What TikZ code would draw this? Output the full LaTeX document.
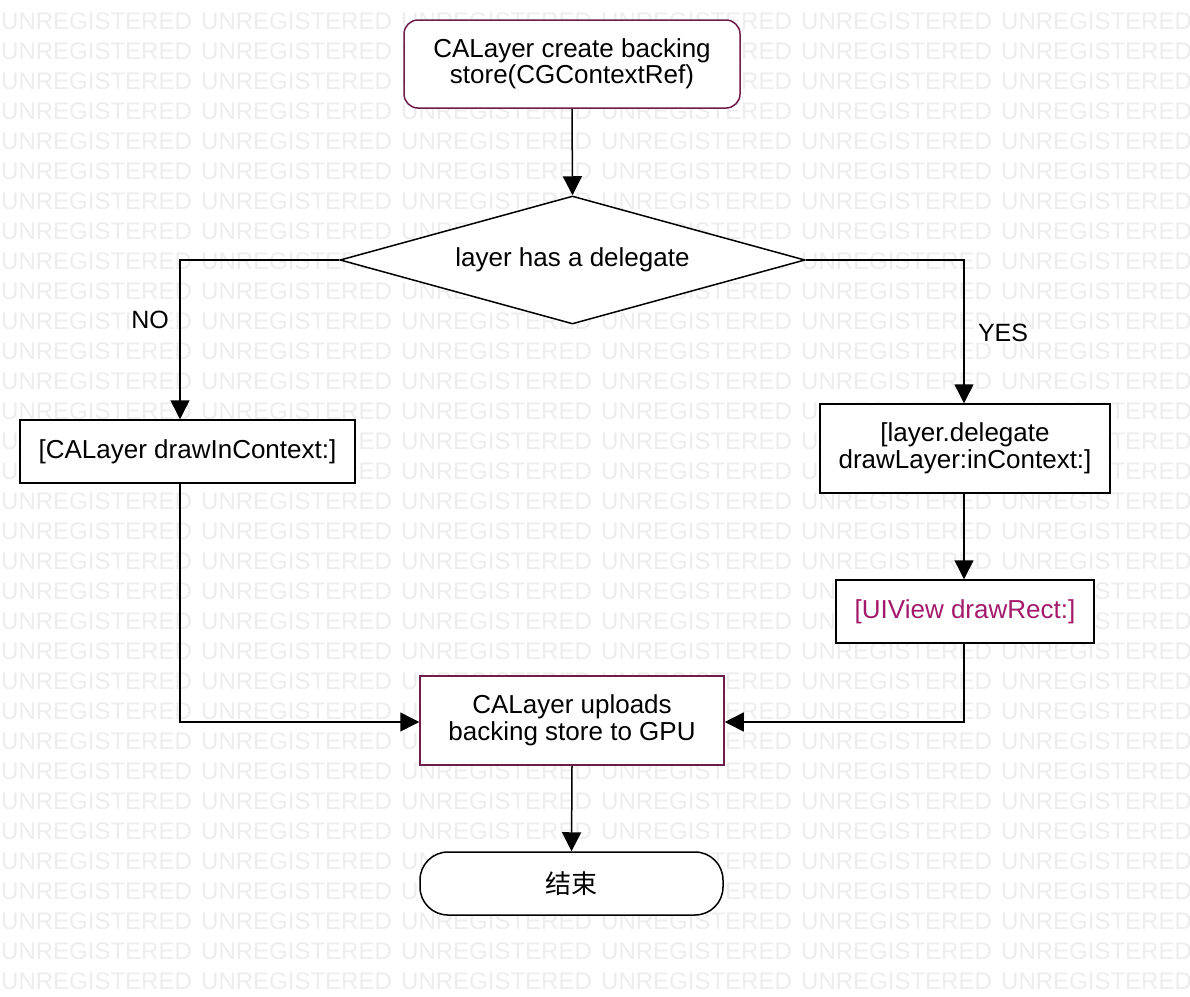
\documentclass[tikz,border=0pt]{standalone}
\usepackage{fontspec}
\setmainfont{Liberation Sans}
\newfontfamily\cjk{Noto Sans CJK SC}
\usetikzlibrary{shapes.geometric,arrows.meta}
\definecolor{bordpurple}{HTML}{6E1D4A}
\definecolor{textpurple}{HTML}{A3196B}
\definecolor{wmgray}{HTML}{EDEDED}
\tikzset{
  wm/.style={text=wmgray,font=\fontsize{24}{26}\selectfont,inner sep=0pt,anchor=west},
  base/.style={draw=black,fill=white,line width=1.5pt,align=center,inner sep=0pt,
    font=\fontsize{26}{26.5}\selectfont},
  startbox/.style={base,draw=bordpurple,rounded corners=14pt},
  procbox/.style={base},
  decbox/.style={base,shape=diamond,aspect=3.63},
  endbox/.style={base,rounded corners=28pt},
  conn/.style={line width=1.5pt,-{Triangle[length=19pt,width=19pt]}},
  lbl/.style={fill=white,inner sep=1pt,font=\fontsize{25}{26}\selectfont}
}
\begin{document}
\begin{tikzpicture}[x=1pt,y=-1pt]
\useasboundingbox (0,0) rectangle (1190,996);
\fill[white] (0,0) rectangle (1190,996);
% watermark
\foreach \r in {0,...,32}{
  \foreach \c in {0,...,5}{
    \node[wm] (wm-\r-\c) at ({\c*200+1},{21+\r*30}) {UNREGISTERED};
  }
}
% nodes
\node[startbox,minimum width=336pt,minimum height=88pt] (st) at (572,64)
  {CALayer create backing\\store(CGContextRef)};
\node[decbox,minimum width=465pt,minimum height=128pt] (dia) at (572.5,260)
  {layer has a delegate};
\node[procbox,minimum width=335pt,minimum height=63pt] (lb) at (187.5,451.5)
  {[CALayer drawInContext:]};
\node[procbox,minimum width=290pt,minimum height=89pt] (rb) at (965,448.5)
  {[layer.delegate\\drawLayer:inContext:]};
\node[procbox,minimum width=258pt,minimum height=63pt,text=textpurple] (uv) at (965,611.5)
  {[UIView drawRect:]};
\node[procbox,draw=bordpurple,minimum width=304pt,minimum height=89pt] (up) at (572,720.5)
  {CALayer uploads\\backing store to GPU};
\node[endbox,minimum width=303pt,minimum height=63pt] (en) at (571.5,883.5)
  {\cjk 结束};
% connectors
\draw[conn] (st.south) -- (dia.north);
\draw[conn] (dia.west) -| ([xshift=-7.5pt]lb.north);
\draw[conn] (dia.east) -| ([xshift=-1pt]rb.north);
\draw[conn] ([xshift=-7.5pt]lb.south) |- ([yshift=-1.5pt]up.west);
\draw[conn] ([xshift=-1pt]rb.south) -- ([xshift=-1pt]uv.north);
\draw[conn] ([xshift=-1pt]uv.south) |- ([yshift=-1.5pt]up.east);
\draw[conn] (up.south) -- (en.north);
% labels
\node[lbl] (no) at (150,320) {NO};
\node[lbl] (yes) at (1003,333) {YES};
\end{tikzpicture}
\end{document}
